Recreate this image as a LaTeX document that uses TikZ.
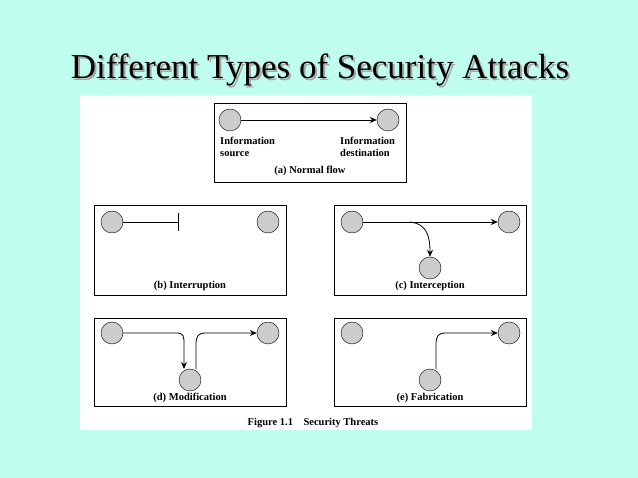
\documentclass[tikz,border=0pt]{standalone}
\usepackage{fontspec}
\setmainfont{Liberation Serif}
\newfontfamily\titlefont{Liberation Serif}
\usetikzlibrary{arrows.meta, positioning}
\definecolor{slidebg}{HTML}{BFFDEE}
\definecolor{circgray}{HTML}{CCCCCC}

\begin{document}
\begin{tikzpicture}[x=1pt, y=-1pt,
            host/.style={circle, draw=black, fill=circgray, minimum size=22pt, inner sep=0pt},
            panel/.style={rectangle, draw=black, line width=0.8pt},
            flow/.style={-{Stealth[length=7pt,width=6pt]}, thick},
            caption/.style={font=\fontsize{10.5}{12}\selectfont\bfseries},
            hostlabel/.style={font=\fontsize{10.5}{11.5}\selectfont\bfseries, align=left, anchor=north west, inner sep=0pt},
            titletext/.style={font=\titlefont\fontsize{35}{38}\selectfont}
        ]

% Slide and title
            \fill[slidebg] (0,0) rectangle (638,478);
            \fill[white] (80,95) rectangle (532,430);
            \node[titletext, gray!70] (title_shadow) at (322,72) {Different Types of Security Attacks};
            \node[titletext] (title) at (320,70) {Different Types of Security Attacks};

% (a) Normal flow
            \draw[panel] (214,103) rectangle (406,182);
            \node[host] (a_src) at (230,120) {};
            \node[host] (a_dst) at (388,120) {};
            \draw[flow] (a_src) -- (a_dst);
            \node[hostlabel] (a_srclbl) at (220,137) {Information\\source};
            \node[hostlabel] (a_dstlbl) at (340,137) {Information\\destination};
            \node[caption] (a_cap) at (310,171) {(a) Normal flow};

% (b) Interruption
            \draw[panel] (94,205) rectangle (286,295);
            \node[host] (b_src) at (112,222) {};
            \node[host] (b_dst) at (268,222) {};
            \coordinate (b_cut) at (178,222);
            \draw[thick] (b_src) -- (b_cut);
            \draw[thick] ([yshift=-9pt]b_cut) -- ([yshift=9pt]b_cut);
            \node[caption] (b_cap) at (190,286) {(b) Interruption};

% (c) Interception
            \draw[panel] (334,205) rectangle (526,295);
            \node[host] (c_src) at (352,222) {};
            \node[host] (c_dst) at (509,222) {};
            \node[host] (c_spy) at (430,268) {};
            \draw[flow] (c_src) -- (c_dst);
            \coordinate (c_tap) at (410,222);
            \draw[flow] (c_tap) .. controls (428,224) and (430,238) .. (c_spy);
            \node[caption] (c_cap) at (430,286) {(c) Interception};

% (d) Modification
            \draw[panel] (94,318) rectangle (286,406);
            \node[host] (d_src) at (112,333) {};
            \node[host] (d_dst) at (268,333) {};
            \node[host] (d_mid) at (190,380) {};
            \draw[flow] (d_src) -- (176,333) .. controls (184,333) and (184,336) .. (184,345) -- (184,369);
            \draw[flow] (196,369) -- (196,345) .. controls (196,336) and (198,333) .. (206,333) -- (d_dst);
            \node[caption] (d_cap) at (190,398) {(d) Modification};

% (e) Fabrication
            \draw[panel] (334,318) rectangle (526,406);
            \node[host] (e_src) at (352,333) {};
            \node[host] (e_dst) at (509,333) {};
            \node[host] (e_fab) at (430,380) {};
            \draw[flow] (436,369) -- (436,345) .. controls (436,336) and (438,333) .. (446,333) -- (e_dst);
            \node[caption] (e_cap) at (430,398) {(e) Fabrication};

% Figure caption
            \node[caption] (fig_cap) at (313,423) {Figure 1.1\quad Security Threats};

            \useasboundingbox (0,0) rectangle (638,478);
        \end{tikzpicture}
\end{document}
